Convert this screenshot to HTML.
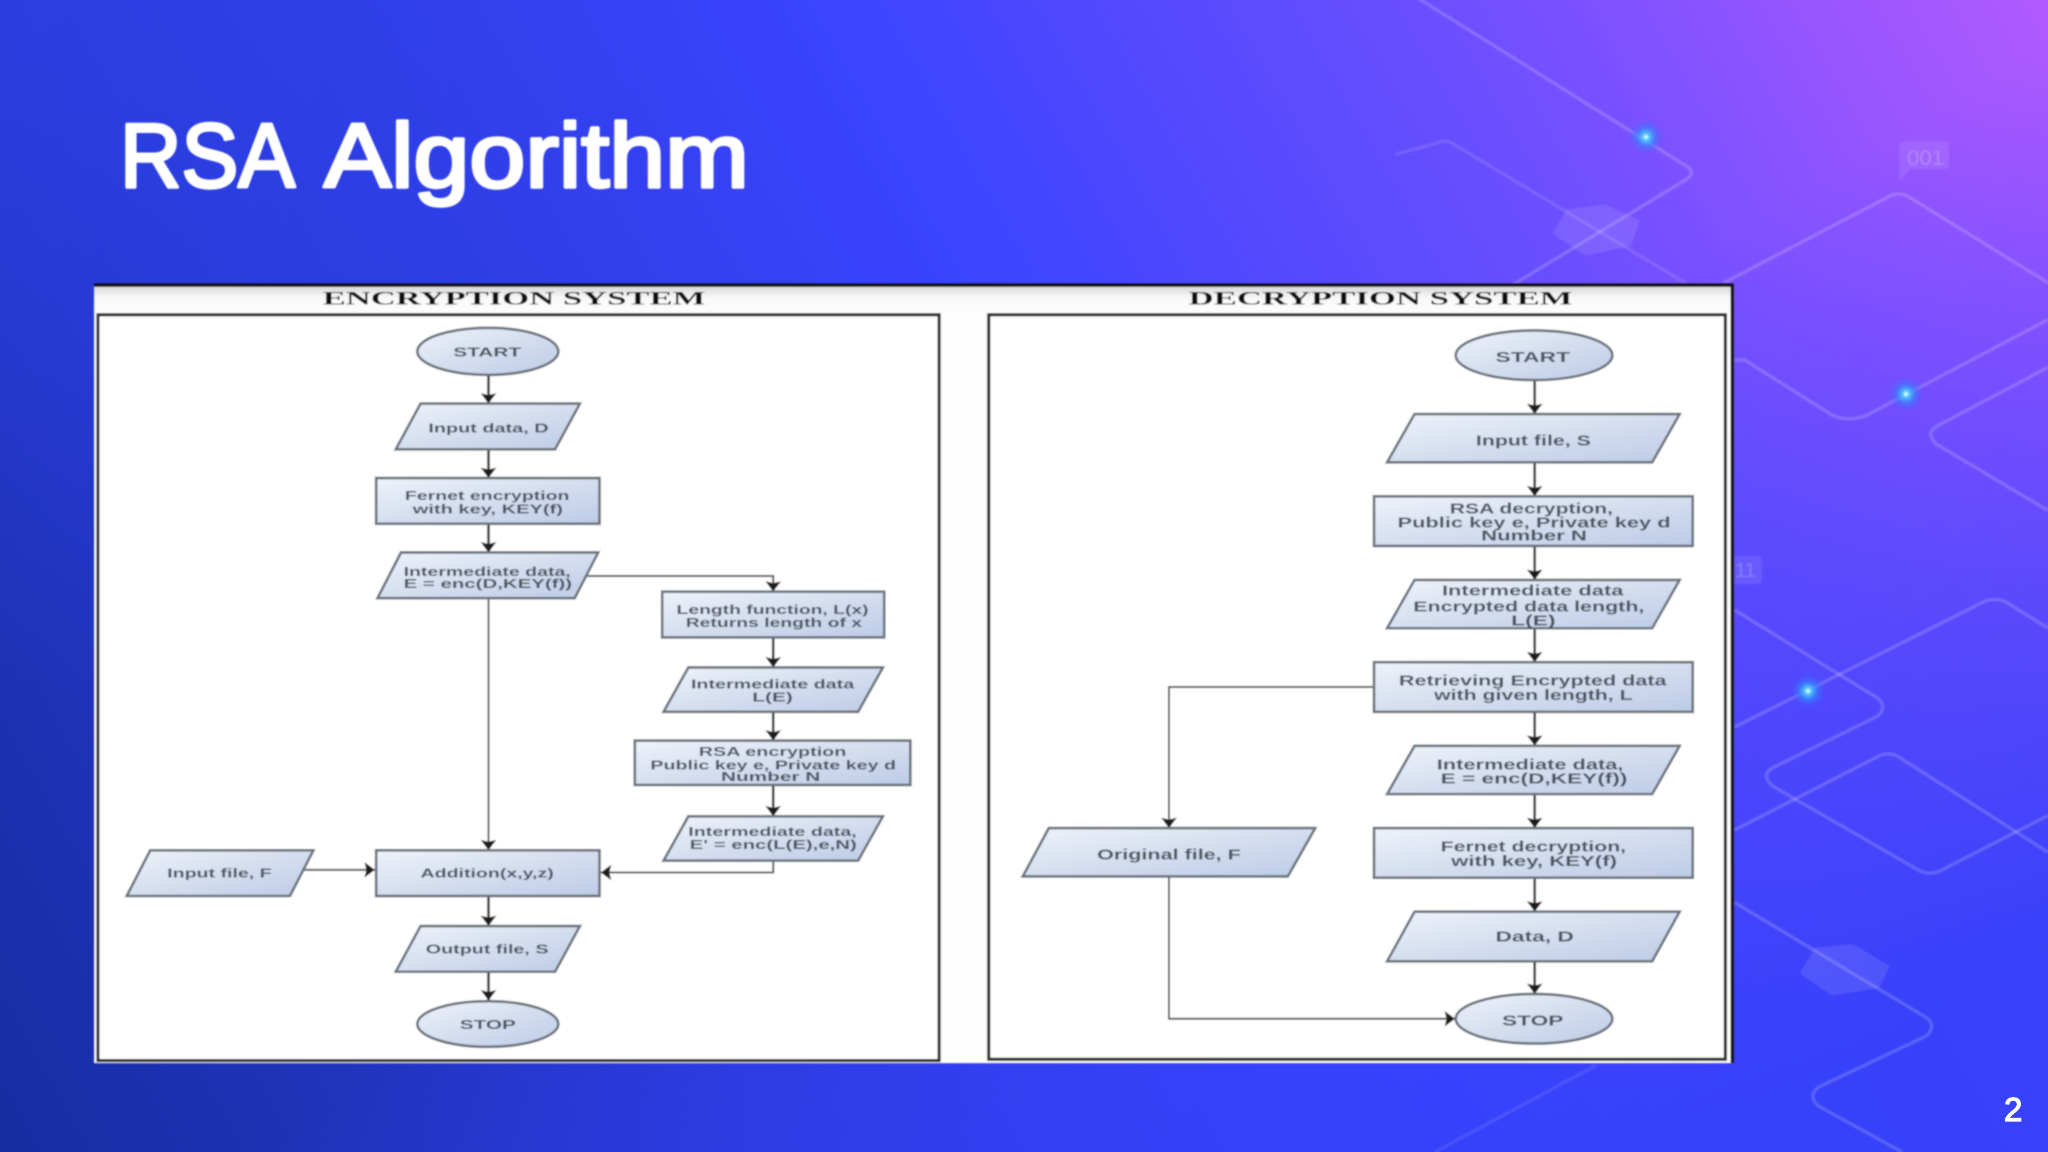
<!DOCTYPE html>
<html lang="en"><head><meta charset="utf-8"><title>RSA Algorithm</title>
<style>
html,body{margin:0;padding:0;width:2048px;height:1152px;overflow:hidden;background:#3040f5}
svg{display:block;position:absolute;left:0;top:0}
.d text{font-family:"Liberation Sans",sans-serif;font-size:10px;fill:#333a48;font-weight:bold;opacity:.85}
.d .r text{font-size:11px}
.d .h{font-family:"Liberation Serif",serif;font-size:14.5px;font-weight:bold;fill:#0c0c0c;opacity:1}
.s{stroke:#69727c;stroke-width:2}
.c{fill:none;stroke:#303438;stroke-width:2;marker-end:url(#a)}
.t{fill:none;stroke:#50555a;stroke-width:1.5;marker-end:url(#a)}
.bg path.l{fill:none;stroke:#fff;stroke-opacity:.17;stroke-width:3.5;vector-effect:non-scaling-stroke}
</style></head><body>
<svg width="2048" height="1152" viewBox="0 0 2048 1152" xmlns="http://www.w3.org/2000/svg">
<defs>
<linearGradient id="bg" gradientUnits="userSpaceOnUse" x1="0" y1="1152" x2="2048" y2="0">
<stop offset="0" stop-color="#172ca0"/><stop offset=".3" stop-color="#2a3bdc"/><stop offset=".55" stop-color="#3c44ff"/><stop offset=".78" stop-color="#6e4fff"/><stop offset="1" stop-color="#b25aff"/>
</linearGradient>
<radialGradient id="bg2" gradientUnits="userSpaceOnUse" cx="0" cy="0" r="700">
<stop offset="0" stop-color="#2f45f0" stop-opacity=".5"/><stop offset="1" stop-color="#2f45f0" stop-opacity="0"/>
</radialGradient>
<linearGradient id="bg3" gradientUnits="userSpaceOnUse" x1="1300" y1="500" x2="1700" y2="1152">
<stop offset="0" stop-color="#3a40ff" stop-opacity="0"/><stop offset="1" stop-color="#3340f8" stop-opacity=".9"/>
</linearGradient>
<linearGradient id="f" x1="0" y1="0" x2="1" y2="1">
<stop offset="0" stop-color="#eef2f9"/><stop offset="1" stop-color="#bccbe6"/>
</linearGradient>
<linearGradient id="band" x1="0" y1="0" x2="0" y2="1">
<stop offset="0" stop-color="#d8d8d8"/><stop offset=".45" stop-color="#f8f8f8"/><stop offset="1" stop-color="#fdfdfd"/>
</linearGradient>
<radialGradient id="g"><stop offset="0" stop-color="#e8fbff"/><stop offset=".22" stop-color="#4fc0ff"/><stop offset=".55" stop-color="#2f8cff" stop-opacity=".55"/><stop offset="1" stop-color="#2f6cff" stop-opacity="0"/></radialGradient>
<marker id="a" markerUnits="userSpaceOnUse" markerWidth="10" markerHeight="14" refX="8" refY="6.5" orient="auto"><path d="M0,0.5 L8,6.5 L0,12.5 L1.5,6.5Z" fill="#1e1e1e"/></marker>
<filter id="b" x="-2%" y="-2%" width="104%" height="104%"><feGaussianBlur stdDeviation="0.7"/></filter>
<filter id="b2" x="-5%" y="-10%" width="110%" height="120%"><feGaussianBlur stdDeviation="0.7"/></filter>
<filter id="b3" x="-5%" y="-5%" width="110%" height="110%"><feGaussianBlur stdDeviation="0.9"/></filter>
</defs>

<g class="bg">
<rect width="2048" height="1152" fill="url(#bg)"/>
<rect width="2048" height="1152" fill="url(#bg2)"/>
<rect width="2048" height="1152" fill="url(#bg3)"/>
<g filter="url(#b3)">
<g transform="translate(1500 0) scale(.3495 .7347)">
<path class="l" d="M-260,-10 L530,225 Q565,235 530,245 L-110,430"/>
<path class="l" style="stroke-opacity:.11" d="M-300,210 L-180,195 Q-157,188 -130,197 L530,385"/>
<path class="l" d="M640,385 L1110,268 Q1140,260 1170,268 L1568,385"/>
<path class="l" d="M670,490 L700,490 L950,565 Q1000,575 1050,565 L1568,435"/>
<path class="l" d="M1568,500 L1250,580 Q1215,590 1250,605 L1568,695"/>
<path class="l" d="M670,830 L1080,950 Q1110,962 1080,975 L780,1045 Q745,1055 780,1070 L1200,1185 Q1230,1192 1260,1185 L1568,1110"/>
<path class="l" d="M670,990 L1380,820 Q1415,812 1450,820 L1568,855"/>
<path class="l" d="M670,1130 L1080,1030 Q1110,1022 1140,1030 L1568,1160"/>
<path class="l" d="M670,1228 L1220,1385 Q1250,1397 1220,1410 L910,1480 Q880,1492 910,1505 L1150,1568"/>
<path class="l" style="stroke-opacity:.09" d="M275,1450 L-186,1568"/>
<path d="M150,318 L245,348 L375,335 L400,300 L300,278 L190,285Z" fill="#fff" fill-opacity=".1"/>
<path d="M858,1325 L950,1355 L1085,1345 L1115,1315 L1010,1285 L900,1290Z" fill="#fff" fill-opacity=".1"/>
<path d="M1152,192 H1275 Q1285,192 1285,202 V220 Q1285,230 1275,230 H1175 L1142,246 V202 Q1142,192 1152,192Z" fill="#fff" fill-opacity=".09"/>
<path d="M670,757 H740 Q750,757 750,767 V785 Q750,795 740,795 H670Z" fill="#fff" fill-opacity=".09"/>
</g>
<text x="1907" y="165" font-family="Liberation Sans,sans-serif" font-size="21" fill="#fff" fill-opacity=".2" textLength="37" lengthAdjust="spacingAndGlyphs">001</text>
<text x="1735" y="577" font-family="Liberation Sans,sans-serif" font-size="20" fill="#fff" fill-opacity=".2">11</text>
</g>
<circle cx="1646" cy="137" r="17" fill="url(#g)"/>
<circle cx="1906" cy="394" r="17" fill="url(#g)"/>
<circle cx="1808" cy="691" r="17" fill="url(#g)"/>
</g>

<g font-family="Liberation Sans,sans-serif" font-size="91" fill="#fff" stroke="#fff" stroke-width="3.5" stroke-linejoin="round" filter="url(#b2)">
<text x="120" y="187" textLength="175" lengthAdjust="spacingAndGlyphs">RSA</text>
<text x="324" y="187" textLength="425" lengthAdjust="spacingAndGlyphs">Algorithm</text>
</g>
<text x="2004" y="1121" font-family="Liberation Sans,sans-serif" font-size="33" fill="#fff" stroke="#fff" stroke-width="1.2">2</text>

<g class="d" transform="scale(1.30612)" filter="url(#b)">
<rect x="72" y="218" width="1255" height="596" fill="#fdfdfd"/>
<rect x="72" y="219" width="1255" height="20" fill="url(#band)"/>
<rect x="72" y="217" width="1255" height="2.6" fill="#111"/>
<rect x="1325" y="217" width="2.4" height="597" fill="#111"/>
<rect x="75" y="241" width="644" height="571" fill="#fff" stroke="#2a2a2a" stroke-width="2.4"/>
<rect x="757" y="241" width="564" height="570" fill="#fff" stroke="#2a2a2a" stroke-width="2.4"/>
<text class="h" x="247" y="233" textLength="293" lengthAdjust="spacingAndGlyphs">ENCRYPTION SYSTEM</text>
<text class="h" x="910" y="233" textLength="294" lengthAdjust="spacingAndGlyphs">DECRYPTION SYSTEM</text>

<!-- left connectors -->
<path class="c" d="M374,287V309"/><path class="c" d="M374,344V366"/><path class="c" d="M374,401V423"/>
<path class="t" d="M374,458V651"/><path class="t" d="M449,441H592V453"/><path class="c" d="M592,488V511"/>
<path class="c" d="M592,545V567"/><path class="c" d="M592,601V625"/><path class="t" d="M592,659V668H460"/>
<path class="t" d="M232,666H287"/><path class="c" d="M374,686V709"/><path class="c" d="M374,744V766"/>

<!-- left shapes -->
<ellipse class="s" cx="373.5" cy="269" rx="54" ry="18" fill="url(#f)"/>
<polygon class="s" points="322,309 444,309 425,344 303,344" fill="url(#f)"/>
<rect class="s" x="288" y="366" width="171" height="35" fill="url(#f)"/>
<polygon class="s" points="307,423 458,423 440,458 289,458" fill="url(#f)"/>
<rect class="s" x="507" y="453" width="170" height="35" fill="url(#f)"/>
<polygon class="s" points="527,511 676,511 657,545 508,545" fill="url(#f)"/>
<rect class="s" x="486" y="567" width="211" height="34" fill="url(#f)"/>
<polygon class="s" points="527,625 676,625 657,659 508,659" fill="url(#f)"/>
<rect class="s" x="288" y="651" width="171" height="35" fill="url(#f)"/>
<polygon class="s" points="115,651 240,651 222,686 97,686" fill="url(#f)"/>
<polygon class="s" points="322,709 444,709 425,744 303,744" fill="url(#f)"/>
<ellipse class="s" cx="373.5" cy="784" rx="54" ry="17.5" fill="url(#f)"/>

<!-- left text -->
<text x="347" y="273" textLength="52" lengthAdjust="spacingAndGlyphs">START</text>
<text x="328" y="331" textLength="92" lengthAdjust="spacingAndGlyphs">Input data, D</text>
<text x="310" y="383" textLength="126" lengthAdjust="spacingAndGlyphs">Fernet encryption</text>
<text x="316" y="393" textLength="115" lengthAdjust="spacingAndGlyphs">with key, KEY(f)</text>
<text x="309" y="441" textLength="128" lengthAdjust="spacingAndGlyphs">Intermediate data,</text>
<text x="309" y="450" textLength="129" lengthAdjust="spacingAndGlyphs">E = enc(D,KEY(f))</text>
<text x="518" y="470" textLength="147" lengthAdjust="spacingAndGlyphs">Length function, L(x)</text>
<text x="525" y="480" textLength="135" lengthAdjust="spacingAndGlyphs">Returns length of x</text>
<text x="529" y="527" textLength="125" lengthAdjust="spacingAndGlyphs">Intermediate data</text>
<text x="576" y="537" textLength="31" lengthAdjust="spacingAndGlyphs">L(E)</text>
<text x="535" y="579" textLength="113" lengthAdjust="spacingAndGlyphs">RSA encryption</text>
<text x="498" y="589" textLength="188" lengthAdjust="spacingAndGlyphs">Public key e, Private key d</text>
<text x="552" y="598" textLength="76" lengthAdjust="spacingAndGlyphs">Number N</text>
<text x="527" y="640" textLength="129" lengthAdjust="spacingAndGlyphs">Intermediate data,</text>
<text x="528" y="650" textLength="128" lengthAdjust="spacingAndGlyphs">E' = enc(L(E),e,N)</text>
<text x="128" y="672" textLength="80" lengthAdjust="spacingAndGlyphs">Input file, F</text>
<text x="322" y="672" textLength="102" lengthAdjust="spacingAndGlyphs">Addition(x,y,z)</text>
<text x="326" y="730" textLength="94" lengthAdjust="spacingAndGlyphs">Output file, S</text>
<text x="352" y="788" textLength="43" lengthAdjust="spacingAndGlyphs">STOP</text>

<!-- right connectors -->
<path class="c" d="M1175,291V317"/><path class="c" d="M1175,354V380"/><path class="c" d="M1175,418V444"/>
<path class="c" d="M1175,481V507"/><path class="c" d="M1175,545V571"/><path class="c" d="M1175,608V634"/>
<path class="c" d="M1175,672V698"/><path class="c" d="M1175,736V761"/>
<path class="t" d="M1052,526H895V634"/><path class="t" d="M895,671V780H1114"/>

<!-- right shapes -->
<ellipse class="s" cx="1174.5" cy="272" rx="60" ry="19" fill="url(#f)"/>
<polygon class="s" points="1083,317 1286,317 1265,354 1062,354" fill="url(#f)"/>
<rect class="s" x="1052" y="380" width="244" height="38" fill="url(#f)"/>
<polygon class="s" points="1083,444 1286,444 1265,481 1062,481" fill="url(#f)"/>
<rect class="s" x="1052" y="507" width="244" height="38" fill="url(#f)"/>
<polygon class="s" points="1083,571 1286,571 1265,608 1062,608" fill="url(#f)"/>
<rect class="s" x="1052" y="634" width="244" height="38" fill="url(#f)"/>
<polygon class="s" points="1083,698 1286,698 1265,736 1062,736" fill="url(#f)"/>
<ellipse class="s" cx="1174.5" cy="780" rx="60" ry="19" fill="url(#f)"/>
<polygon class="s" points="803,634 1007,634 986,671 783,671" fill="url(#f)"/>

<!-- right text -->
<g class="r">
<text x="1145" y="277" textLength="57" lengthAdjust="spacingAndGlyphs">START</text>
<text x="1130" y="341" textLength="88" lengthAdjust="spacingAndGlyphs">Input file, S</text>
<text x="1110" y="393" textLength="125" lengthAdjust="spacingAndGlyphs">RSA decryption,</text>
<text x="1070" y="404" textLength="209" lengthAdjust="spacingAndGlyphs">Public key e, Private key d</text>
<text x="1134" y="414" textLength="81" lengthAdjust="spacingAndGlyphs">Number N</text>
<text x="1104" y="456" textLength="139" lengthAdjust="spacingAndGlyphs">Intermediate data</text>
<text x="1082" y="468" textLength="177" lengthAdjust="spacingAndGlyphs">Encrypted data length,</text>
<text x="1157" y="479" textLength="34" lengthAdjust="spacingAndGlyphs">L(E)</text>
<text x="1071" y="525" textLength="205" lengthAdjust="spacingAndGlyphs">Retrieving Encrypted data</text>
<text x="1098" y="536" textLength="152" lengthAdjust="spacingAndGlyphs">with given length, L</text>
<text x="1100" y="589" textLength="143" lengthAdjust="spacingAndGlyphs">Intermediate data,</text>
<text x="1103" y="600" textLength="143" lengthAdjust="spacingAndGlyphs">E = enc(D,KEY(f))</text>
<text x="1103" y="652" textLength="142" lengthAdjust="spacingAndGlyphs">Fernet decryption,</text>
<text x="1111" y="663" textLength="127" lengthAdjust="spacingAndGlyphs">with key, KEY(f)</text>
<text x="1145" y="721" textLength="60" lengthAdjust="spacingAndGlyphs">Data, D</text>
<text x="840" y="658" textLength="110" lengthAdjust="spacingAndGlyphs">Original file, F</text>
<text x="1150" y="785" textLength="47" lengthAdjust="spacingAndGlyphs">STOP</text>
</g>
</g>
</svg>
</body></html>
